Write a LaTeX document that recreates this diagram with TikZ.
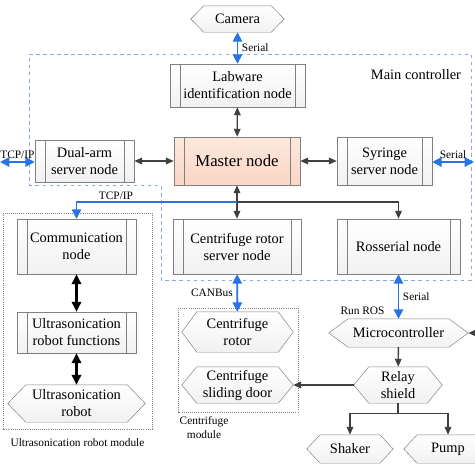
\documentclass[tikz,border=0pt]{standalone}
\usepackage{fontspec}
\setmainfont{Liberation Serif}
\usetikzlibrary{arrows.meta,positioning,calc,backgrounds}
\definecolor{boxgray}{RGB}{128,128,128}
\definecolor{arrdark}{RGB}{64,64,64}
\definecolor{arrblue}{RGB}{40,115,230}
\definecolor{dashblue}{RGB}{135,170,220}
\definecolor{masterfill}{RGB}{250,214,196}

\begin{document}
\begin{tikzpicture}[x=0.03cm,y=-0.03cm,
	proc/.style={draw=boxgray, top color=white, bottom color=gray!11, inner sep=0pt, align=center,
		font=\fontsize{12.3}{14.5}\selectfont,
		path picture={\draw[boxgray] ([xshift=0.3cm]path picture bounding box.north west) -- ([xshift=0.3cm]path picture bounding box.south west)
			([xshift=-0.3cm]path picture bounding box.north east) -- ([xshift=-0.3cm]path picture bounding box.south east);}},
	hexa/.style={rectangle, inner sep=0pt, align=center, font=\fontsize{12.3}{14.5}\selectfont},
	hexline/.style={draw=boxgray, top color=white, bottom color=gray!11},
	lbl/.style={font=\fontsize{9.7}{12}\selectfont, inner sep=1pt, align=center},
	darr/.style={{Triangle[length=0.24cm,width=0.2cm]}-{Triangle[length=0.24cm,width=0.2cm]}, draw=arrdark, line width=1.2pt},
	dto/.style={-{Triangle[length=0.24cm,width=0.2cm]}, draw=arrdark, line width=1.2pt},
	barr/.style={{Triangle[length=0.28cm,width=0.28cm]}-{Triangle[length=0.28cm,width=0.28cm]}, draw=arrblue, line width=1.6pt},
	karr/.style={{Triangle[length=0.3cm,width=0.28cm]}-{Triangle[length=0.3cm,width=0.28cm]}, draw=black, line width=2pt}]
		\useasboundingbox (0,0) rectangle (474,474);
		% main controller and module frames
		\draw[dashblue, dashed, line width=0.8pt] (29,54) -- (471,54) -- (471,280) -- (161,280) -- (161,185) -- (29,185) -- cycle;
		\draw[boxgray, densely dotted, line width=0.8pt] (3,213) rectangle (152,429);
		\draw[boxgray, densely dotted, line width=0.8pt] (178,308) rectangle (298,412);
		\node at (416,75) [font=\fontsize{12.3}{14.5}\selectfont] (mainlbl) {Main controller};
		\node at (77.5,443) [lbl] (ulbl) {Ultrasonication robot module};
		\node at (204,428) [lbl] (clbl) {Centrifuge\\module};
		% nodes
		\node at (237.5,19) [hexa, minimum width=2.79cm, minimum height=0.78cm] (camera) {Camera};
		\node at (237.5,85.5) [proc, minimum width=4.05cm, minimum height=1.29cm] (labware) {Labware\\identification node};
		\node at (237,161) [proc, top color=masterfill!55, bottom color=masterfill, minimum width=3.78cm, minimum height=1.44cm, font=\fontsize{14.3}{16}\selectfont] (master) {Master node};
		\node at (84.5,161) [proc, minimum width=2.97cm, minimum height=1.26cm] (dual) {Dual-arm\\server node};
		\node at (384.5,161) [proc, minimum width=2.85cm, minimum height=1.44cm] (syringe) {Syringe\\server node};
		\node at (76.5,246.5) [proc, minimum width=3.57cm, minimum height=1.65cm] (comm) {Communication\\node};
		\node at (76.5,332.5) [proc, minimum width=3.57cm, minimum height=1.23cm] (ufunc) {Ultrasonication\\robot functions};
		\node at (76.5,403.5) [hexa, minimum width=4.11cm, minimum height=1.11cm] (urobot) {Ultrasonication\\robot};
		\node at (237,246.5) [proc, minimum width=3.84cm, minimum height=1.65cm] (cserver) {Centrifuge rotor\\server node};
		\node at (398.5,246.5) [proc, minimum width=3.69cm, minimum height=1.65cm] (rosserial) {Rosserial node};
		\node at (237.5,332) [hexa, minimum width=3.33cm, minimum height=1.2cm] (crotor) {Centrifuge\\rotor};
		\node at (237.5,385) [hexa, minimum width=3.33cm, minimum height=1.08cm] (cdoor) {Centrifuge\\sliding door};
		\node at (398.5,333) [hexa, minimum width=4.17cm, minimum height=0.84cm] (micro) {Microcontroller};
		\node at (398,385) [hexa, minimum width=2.64cm, minimum height=1.08cm] (relay) {Relay\\shield};
		\node at (350,449) [hexa, minimum width=2.58cm, minimum height=0.84cm] (shaker) {Shaker};
		\node at (448,449) [hexa, minimum width=2.64cm, minimum height=0.84cm] (pump) {Pump};
		% hexagon outlines behind the texts
		\begin{scope}[on background layer]
			\foreach \n/\d in {camera/0.39,urobot/0.54,crotor/0.45,cdoor/0.45,micro/0.58,relay/0.45,shaker/0.4,pump/0.4}
				\draw[hexline] (\n.west) -- ([xshift=\d cm]\n.north west) -- ([xshift=-\d cm]\n.north east) -- (\n.east)
					-- ([xshift=-\d cm]\n.south east) -- ([xshift=\d cm]\n.south west) -- cycle;
		\end{scope}
		% labels
		\node at (116,196) [lbl] (tcplbl2) {TCP/IP};
		\node at (362.5,311) [lbl] (rosrun) {Run ROS};
		% free ends
		\coordinate (tcpend) at (0,162);
		\coordinate (serend) at (474,162);
		\coordinate (jn) at (237,202);
		\coordinate (microin) at (485,333);
		% connectors
		\draw[barr] (camera) -- (labware) node[lbl, midway, right=2pt] (serlbl) {Serial};
		\draw[darr] (labware) -- (master);
		\draw[darr] (dual) -- (master);
		\draw[darr] (master) -- (syringe);
		\draw[barr] (tcpend) -- (dual.west |- tcpend) node[lbl, midway, above=1pt] (tcplbl) {TCP/IP};
		\draw[barr] (syringe.east |- serend) -- (serend) node[lbl, midway, above=1pt] (serlbl2) {Serial};
		\draw[darr] (master) -- (cserver);
		\draw[dto] (jn) -| (rosserial.north);
		\draw[-{Triangle[length=0.28cm,width=0.28cm]}, draw=arrblue, line width=1.2pt] (jn) -| (comm.north);
		\draw[karr] (comm) -- (ufunc);
		\draw[karr] (ufunc) -- (urobot);
		\draw[barr] (cserver) -- (crotor) node[lbl, midway, left=2pt] (canlbl) {CANBus};
		\draw[barr] (rosserial) -- (micro) node[lbl, midway, right=2pt] (serlbl3) {Serial};
		\draw[dto] (micro) -- (relay);
		\draw[dto] (relay) -- (cdoor);
		\draw[dto] (relay.south) -- ++(0,10) -| (shaker.north);
		\draw[dto] (relay.south) -- ++(0,10) -| (pump.north);
		\draw[dto] (microin) -- (micro.east);
\end{tikzpicture}
\end{document}
